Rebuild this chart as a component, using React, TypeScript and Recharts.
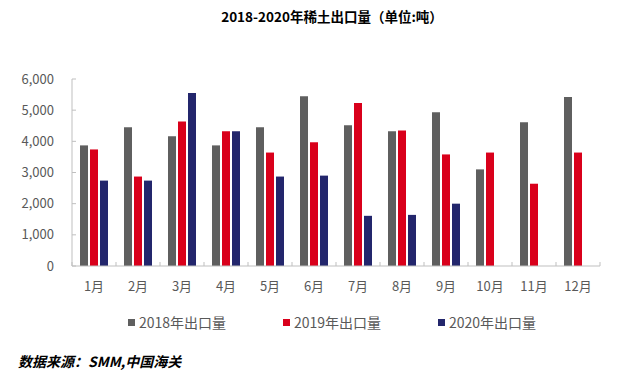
import React from 'react';
import { BarChart, Bar, XAxis, YAxis, Legend } from 'recharts';

const months = ['1月', '2月', '3月', '4月', '5月', '6月', '7月', '8月', '9月', '10月', '11月', '12月'];
const exports2018 = [3870, 4450, 4160, 3870, 4450, 5450, 4520, 4320, 4930, 3100, 4610, 5420];
const exports2019 = [3740, 2870, 4640, 4320, 3640, 3970, 5230, 4350, 3580, 3640, 2640, 3640];
const exports2020: (number | null)[] = [2740, 2740, 5550, 4320, 2870, 2900, 1610, 1640, 2000, null, null, null];
const yTicks = [0, 1000, 2000, 3000, 4000, 5000, 6000];

const seriesNames = ['2018年出口量', '2019年出口量', '2020年出口量'];
const seriesColors = ['#5f5f5f', '#d9001b', '#23266c'];

const data = months.map((m, i) => ({
  month: m,
  y2018: exports2018[i],
  y2019: exports2019[i],
  y2020: exports2020[i],
}));

const FONT = '"Noto Sans CJK SC", "Noto Sans", sans-serif';
const TICK_MARGIN_X = 16;

const XTick = (props: any) => {
  const { x, y, payload, index, visibleTicksCount, width } = props;
  const band = width / visibleTicksCount;
  const lineY = y - TICK_MARGIN_X;
  const isLast = index === visibleTicksCount - 1;
  return (
    <g>
      <line x1={x - band / 2} x2={x - band / 2} y1={lineY} y2={lineY - 4} stroke="#bfbfbf" strokeWidth={1} />
      {isLast && (
        <line x1={x + band / 2} x2={x + band / 2} y1={lineY} y2={lineY - 4} stroke="#bfbfbf" strokeWidth={1} />
      )}
      <text x={x} y={y} dy="0.71em" textAnchor="middle" fill="#595959" fontSize={13} fontFamily={FONT}>
        {payload.value}
      </text>
    </g>
  );
};

const LegendContent = () => (
  <div style={{ position: 'relative', width: 632, height: 20, fontFamily: FONT }}>
    {seriesNames.map((name, i) => (
      <div
        key={name}
        style={{
          position: 'absolute',
          left: 128 + i * 155,
          top: 0,
          display: 'flex',
          alignItems: 'center',
          color: '#595959',
          fontSize: 14,
          lineHeight: '20px',
          whiteSpace: 'nowrap',
        }}
      >
        <span style={{ display: 'inline-block', width: 7, height: 7, background: seriesColors[i], marginRight: 4 }} />
        {name}
      </div>
    ))}
  </div>
);

export default function App() {
  return (
    <div style={{ position: 'absolute', left: 0, top: 0, width: 632, height: 377, background: '#fff', overflow: 'hidden' }}>
      <div
        style={{
          position: 'absolute',
          left: 0,
          top: 6,
          width: 664,
          textAlign: 'center',
          fontFamily: FONT,
          fontWeight: 'bold',
          fontSize: 13.5,
          color: '#000',
          lineHeight: '20px',
          whiteSpace: 'pre',
        }}
      >
        2018-2020年稀土出口量（单位:吨）
      </div>
      <BarChart
        width={632}
        height={377}
        data={data}
        margin={{ top: 79, right: 32, bottom: 61, left: 12 }}
        barSize={8}
        barGap={2}
        style={{ position: 'absolute', left: 0, top: 0 }}
      >
        <XAxis
          dataKey="month"
          axisLine={{ stroke: '#bfbfbf' }}
          tickLine={false}
          tickSize={0}
          tickMargin={TICK_MARGIN_X}
          tick={<XTick />}
          interval={0}
          height={30}
        />
        <YAxis
          domain={[0, 6000]}
          ticks={yTicks}
          width={60}
          axisLine={{ stroke: '#bfbfbf' }}
          tickLine={{ stroke: '#bfbfbf' }}
          tickSize={-4}
          tickMargin={22}
          tick={{ fill: '#595959', fontSize: 13, fontFamily: FONT }}
          tickFormatter={(v: number) => v.toLocaleString('en-US')}
        />
        <Legend
          content={<LegendContent />}
          wrapperStyle={{ position: 'absolute', left: 0, top: 312, width: 632 }}
        />
        <Bar dataKey="y2018" name={seriesNames[0]} fill={seriesColors[0]} isAnimationActive={false} />
        <Bar dataKey="y2019" name={seriesNames[1]} fill={seriesColors[1]} isAnimationActive={false} />
        <Bar dataKey="y2020" name={seriesNames[2]} fill={seriesColors[2]} isAnimationActive={false} />
      </BarChart>
      <div
        style={{
          position: 'absolute',
          left: 18,
          top: 351,
          fontFamily: FONT,
          fontWeight: 'bold',
          fontStyle: 'italic',
          fontSize: 14,
          color: '#000',
          lineHeight: '20px',
          whiteSpace: 'nowrap',
        }}
      >
        数据来源：SMM,中国海关
      </div>
    </div>
  );
}
